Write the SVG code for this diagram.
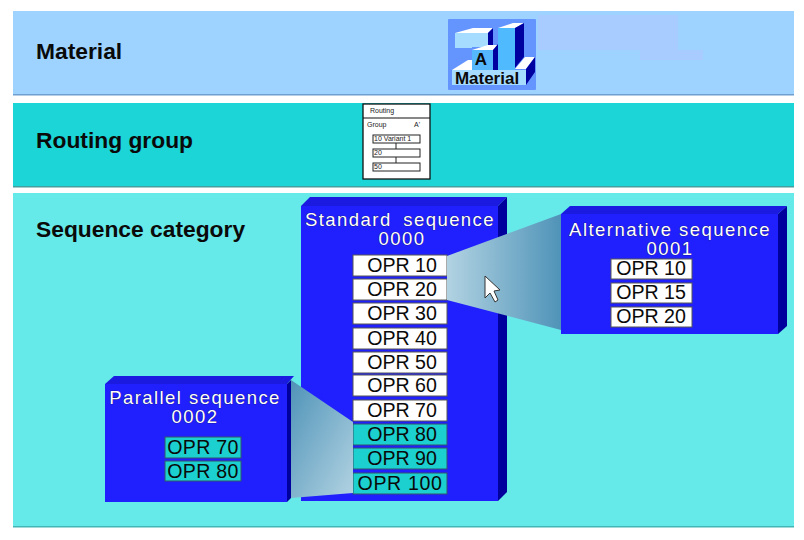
<svg xmlns="http://www.w3.org/2000/svg" width="804" height="540" viewBox="0 0 804 540">
<style>
text{font-family:"Liberation Sans",Arial,sans-serif}
.h{font-size:22.8px;font-weight:700;fill:#0a0a0a}
.t{font-size:18.5px;font-weight:400;fill:#fff;text-anchor:middle;letter-spacing:1.45px;paint-order:stroke;stroke:#10106a;stroke-width:.7px}
.o{font-size:19.6px;fill:#0a0a0a;text-anchor:middle}
.w{fill:#fff;stroke:#555;stroke-width:1}
.c{fill:#1bd0cf;stroke:#33556a;stroke-width:1}
.front{fill:#2020ff}.top{fill:#1a1ae0}.side{fill:#00009c}
.d{font-size:7px;fill:#222}
.b{fill:#fff;stroke:#222;stroke-width:1}
.dk{fill:#0000a0}.wh{fill:#fff}
</style>
<defs>
<linearGradient id="g1" x1="0" x2="1" y1="0" y2="0"><stop offset="0" stop-color="#b2d3e2"/><stop offset="1" stop-color="#4f93b8"/></linearGradient>
<linearGradient id="g2" x1="0" x2="1" y1="0" y2="1"><stop offset="0" stop-color="#4f93b8"/><stop offset="1" stop-color="#b2d3e2"/></linearGradient>
</defs>
<rect width="804" height="540" fill="#fff"/>
<g id="band-material">
<rect x="13" y="11" width="781" height="84" fill="#9ed2ff"/><rect x="13" y="94" width="781" height="1.5" fill="#6f9fd0"/>
<path d="M538 15H678V50H703V60H640V50H538Z" fill="#a8ccff"/>
<text class="h" x="36" y="59">Material</text>
</g>
<g id="band-routing">
<rect x="13" y="103" width="781" height="84" fill="#1bd5d6"/><rect x="13" y="186" width="781" height="1.5" fill="#44a0a0"/>
<text class="h" x="36" y="148">Routing group</text>
</g>
<g id="band-sequence">
<rect x="13" y="193" width="781" height="334" fill="#66e9e9"/><rect x="13" y="526" width="781" height="1.5" fill="#44b5b5"/>
<text class="h" x="36" y="237">Sequence category</text>
</g>
<g id="material-icon">
<rect x="448" y="19" width="88" height="71" rx="1" fill="#6495ff"/>
<path d="M455 33H488V47H472V48H455Z" fill="#a6dcff"/>
<path class="wh" d="M455 33L473 28H493L488 33Z"/>
<path class="dk" d="M488 33L493 28V45L488 48Z"/>
<path d="M472 50H493V70H472Z" fill="#55b8ff"/>
<path class="wh" d="M472 50L488 45H498L493 50Z"/>
<path class="dk" d="M493 50L498 44V70H493Z"/>
<path d="M498 28H515V70H498Z" fill="#50baff"/>
<path class="wh" d="M498 28L513 23H524L515 28Z"/>
<path class="dk" d="M515 28L524 23V57L515 68Z"/>
<path d="M452 70H526V85H452Z" fill="#a6dcff"/>
<path class="wh" d="M515 69L525 57H535L526 69Z"/>
<path class="dk" d="M526 69L535 57V72L526 85Z"/>
<path class="wh" d="M452 70L468 60H472V70Z"/>
<text x="481" y="65" font-size="17" font-weight="700" text-anchor="middle" fill="#0a0a0a">A</text>
<text x="487" y="83.500" font-size="17" font-weight="700" text-anchor="middle" fill="#0a0a0a">Material</text>
</g>
<g id="routing-doc">
<rect x="363" y="104" width="67" height="75" fill="#fff" stroke="#111" stroke-width="1.300"/>
<path d="M363 118H430" stroke="#111" fill="none"/>
<text class="d" x="370" y="113">Routing</text>
<text class="d" x="367" y="127">Group</text>
<text class="d" x="414" y="127">A'</text>
<rect class="b" x="373" y="135" width="47" height="8"/><rect class="b" x="373" y="149" width="47" height="8"/><rect class="b" x="373" y="163" width="47" height="8"/>
<path d="M396 143V149M396 157V163" stroke="#222" fill="none"/>
<text class="d" x="374" y="141">10 Variant 1</text>
<text class="d" x="374" y="155">20</text>
<text class="d" x="374" y="169">50</text>
</g>
<g id="standard-sequence">
<path class="top" d="M301 206L310 197H507L498 206Z"/>
<rect class="front" x="301" y="206" width="197" height="295"/>
<path class="side" d="M498 206L507 197V492L498 501Z"/>
<text class="t" x="400" y="225.500" word-spacing="5">Standard sequence</text>
<text class="t" x="402" y="245">0000</text>
<rect class="w" x="353" y="255" width="94" height="21"/><text class="o" x="402" y="272">OPR 10</text>
<rect class="w" x="353" y="279" width="94" height="21"/><text class="o" x="402" y="296">OPR 20</text>
<rect class="w" x="353" y="303" width="94" height="21"/><text class="o" x="402" y="320">OPR 30</text>
<rect class="w" x="353" y="328" width="94" height="21"/><text class="o" x="402" y="345">OPR 40</text>
<rect class="w" x="353" y="352" width="94" height="21"/><text class="o" x="402" y="369">OPR 50</text>
<rect class="w" x="353" y="375" width="94" height="21"/><text class="o" x="402" y="392">OPR 60</text>
<rect class="w" x="353" y="400" width="94" height="21"/><text class="o" x="402" y="417">OPR 70</text>
<rect class="c" x="353" y="424" width="94" height="21"/><text class="o" x="402" y="441">OPR 80</text>
<rect class="c" x="353" y="448" width="94" height="21"/><text class="o" x="402" y="465">OPR 90</text>
<rect class="c" x="353" y="473" width="94" height="21"/><text class="o" x="400" y="490" letter-spacing=".6">OPR 100</text>
</g>
<g id="connectors">
<path d="M447 256L561 214V330L447 300Z" fill="url(#g1)"/>
<path d="M291 380L353 422V493L291 498Z" fill="url(#g2)"/>
</g>
<g id="alternative-sequence">
<path class="top" d="M561 214L570 206H787L778 214Z"/>
<rect class="front" x="561" y="214" width="217" height="120"/>
<path class="side" d="M778 214L787 206V326L778 334Z"/>
<text class="t" x="670" y="235.500">Alternative sequence</text>
<text class="t" x="670" y="255">0001</text>
<rect class="w" x="611" y="259" width="81" height="20"/><text class="o" x="651" y="275">OPR 10</text>
<rect class="w" x="611" y="283" width="81" height="20"/><text class="o" x="651" y="299">OPR 15</text>
<rect class="w" x="611" y="307" width="81" height="20"/><text class="o" x="651" y="323">OPR 20</text>
</g>
<g id="parallel-sequence">
<path class="top" d="M105 384L114 376H294L287 384Z"/>
<rect class="front" x="105" y="384" width="182" height="118"/>
<path class="side" d="M287 384L291 380V498L287 502Z"/>
<text class="t" x="195" y="403.500">Parallel sequence</text>
<text class="t" x="195" y="423">0002</text>
<rect class="c" x="165" y="437" width="76" height="21"/><text class="o" x="203" y="454" letter-spacing=".3">OPR 70</text>
<rect class="c" x="165" y="461" width="76" height="20"/><text class="o" x="203" y="478" letter-spacing=".3">OPR 80</text>
</g>
<path id="cursor" d="M485 276V298L490 293L495 302L498 300L494 291L500 290Z" fill="#fff" stroke="#333" stroke-width="1"/>
</svg>
